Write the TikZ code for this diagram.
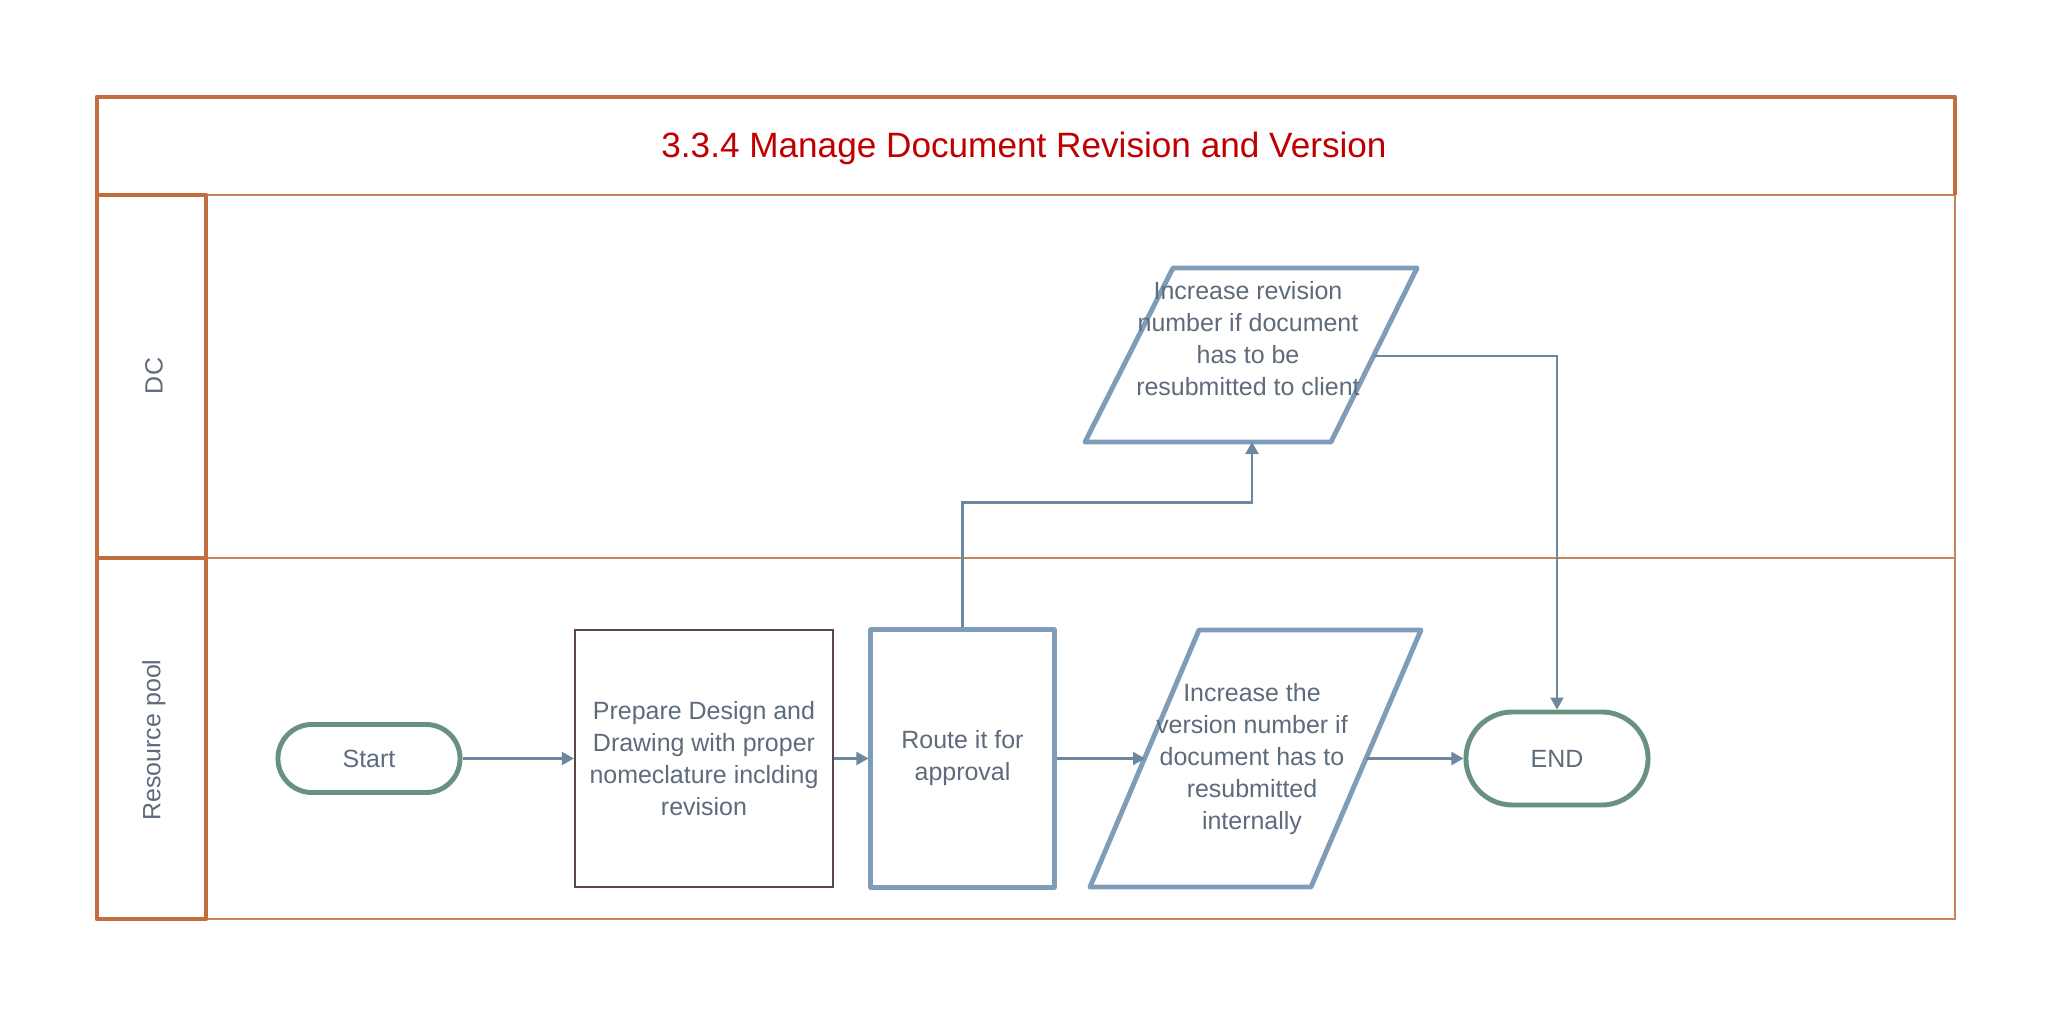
\documentclass[tikz,border=0pt]{standalone}
\usepackage{fontspec}
\setmainfont{Liberation Sans}
\usetikzlibrary{arrows.meta,calc}
\definecolor{lanec}{HTML}{C46E40}
\definecolor{lanethinc}{HTML}{C98259}
\definecolor{titlec}{HTML}{C00000}
\definecolor{txtc}{HTML}{5D6B7D}
\definecolor{bluec}{HTML}{7F9DB9}
\definecolor{greenc}{HTML}{689180}
\definecolor{connc}{HTML}{6E87A0}
\definecolor{boxc}{HTML}{5A4646}
\tikzset{
  lanethick/.style={draw=lanec, line width=1.4pt, line join=round},
  lanethin/.style={draw=lanethinc, line width=0.55pt},
  txt/.style={text=txtc, font=\fontsize{7.1}{9.1}\selectfont, align=center, inner sep=0pt},
  lanelabel/.style={txt, rotate=90},
  termbox/.style={txt, draw=greenc, line width=1.4pt, fill=white},
  procbox/.style={txt, draw=boxc, line width=0.6pt, fill=white},
  routebox/.style={txt, draw=bluec, line width=1.4pt, fill=white, line join=round},
  parabox/.style={draw=bluec, line width=1.4pt, fill=white, line join=round},
  conn/.style={draw=connc, line width=0.6pt, -{Triangle[length=0.12cm,width=0.13cm]}},
  connplain/.style={draw=connc, line width=0.6pt}
}
\begin{document}
\begin{tikzpicture}[x=0.01cm,y=-0.01cm]
\useasboundingbox[fill=white] (0,0) rectangle (2048,1013);

% lanes
\draw[lanethin] (206,195) rectangle (1955,558);
\draw[lanethin] (206,558) rectangle (1955,919);
\draw[lanethin] (97,195) -- (1955,195);
\draw[lanethick] (97,195) -- (97,97) -- (1955,97) -- (1955,195);
\draw[lanethick] (97,195) rectangle (206,558);
\draw[lanethick] (97,558) rectangle (206,919);

\node[text=titlec, font=\fontsize{10}{12}\selectfont, inner sep=0pt] (title) at (1024,148) {3.3.4 Manage Document Revision and Version};
\node[lanelabel] (dc) at (154,376) {DC};
\node[lanelabel] (rp) at (154,740) {Resource pool};

% shapes
\node[termbox, minimum width=1.82cm, minimum height=0.68cm, rounded corners=0.34cm] (start) at (369,758.5) {Start};
\node[procbox, minimum width=2.58cm, minimum height=2.57cm] (prep) at (704,758.5) {Prepare Design and\\Drawing with proper\\nomeclature inclding\\revision};
\node[routebox, minimum width=1.83cm, minimum height=2.57cm] (route) at (962.5,758.5) {Route it for\\approval};

\draw[parabox] (1199,630) -- (1421,630) -- (1311,887) -- (1090,887) -- cycle;
\node[txt] (p2) at (1252,759) {Increase the\\version number if\\document has to\\resubmitted\\internally};
\coordinate (p2in) at (1145,758.5);
\coordinate (p2out) at (1366,758.5);

\draw[parabox] (1173,268) -- (1417,268) -- (1331,442) -- (1085,442) -- cycle;
\node[txt] (p1) at (1248,339) {Increase revision\\number if document\\has to be\\resubmitted to client};
\coordinate (p1in) at (1252,442);
\coordinate (p1out) at (1374,356);

\node[termbox, minimum width=1.82cm, minimum height=0.93cm, rounded corners=0.465cm] (end) at (1557,758.5) {END};

% connectors
\draw[conn] (start.east) -- (prep.west);
\draw[conn] (prep.east) -- (route.west);
\draw[conn] (route.east) -- (p2in);
\draw[conn] (p2out) -- (end.west);
\draw[conn] (route.north) -- ++(0,-125) -| (p1in);
\draw[conn] (p1out) -| (end.north);
\end{tikzpicture}
\end{document}
